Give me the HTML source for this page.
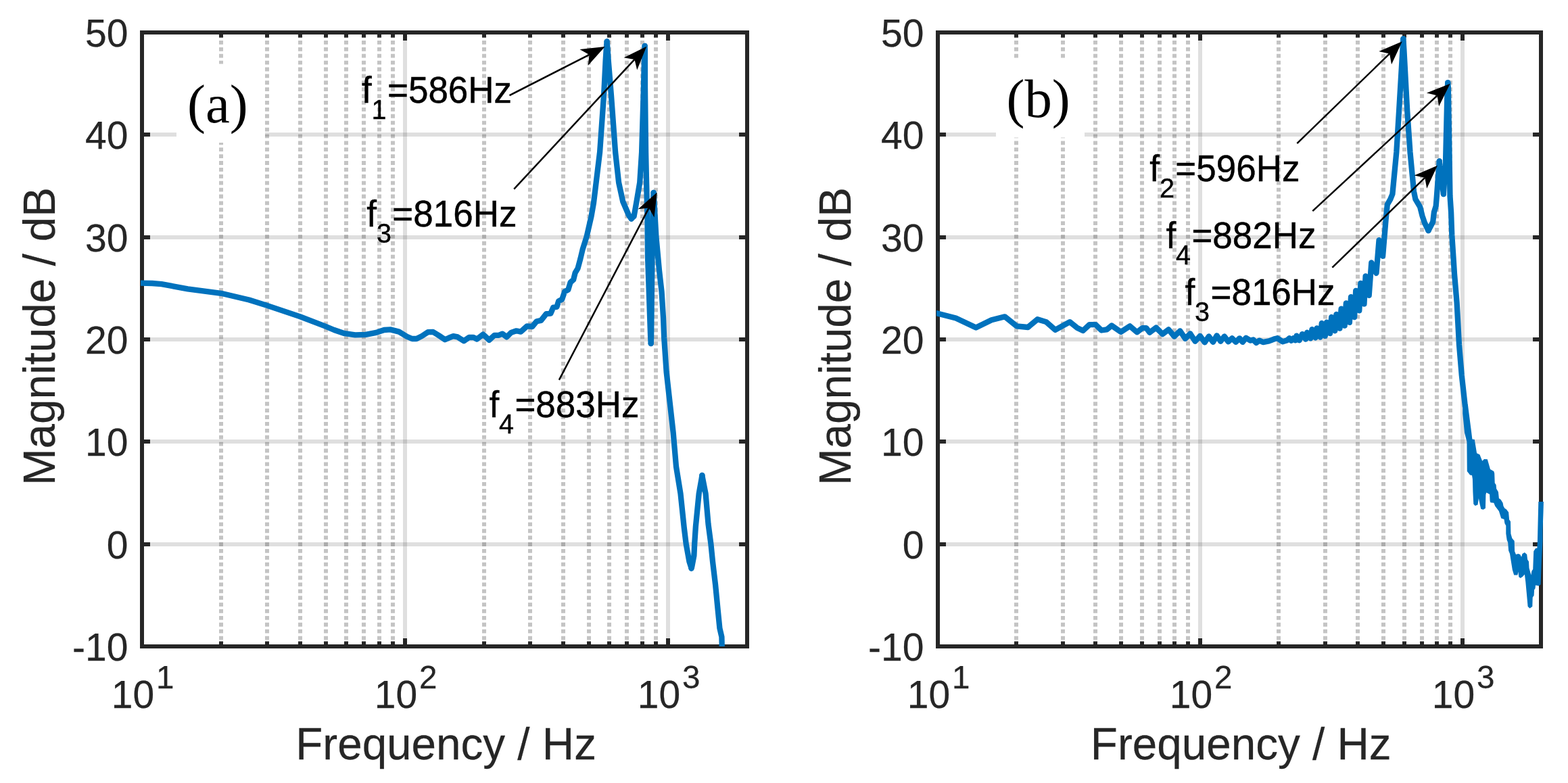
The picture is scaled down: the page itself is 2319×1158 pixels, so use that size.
<!DOCTYPE html>
<html lang="en"><head><meta charset="utf-8"><title>Magnitude / dB vs Frequency / Hz</title>
<style>
html,body{margin:0;padding:0;background:#fff}
body{width:2319px;height:1158px;overflow:hidden}
svg{display:block}
text{font-family:"Liberation Sans",Arial,Helvetica,sans-serif;fill:#262626;stroke:#262626;stroke-width:.25px}
.tk{font-size:57px}.tks{font-size:47.5px}.lb{font-size:65.6px}
.an{font-size:53px;fill:#000;stroke:#000;stroke-width:.45px}.ans{font-size:39.6px;fill:#000;stroke:#000;stroke-width:.4px}
.pl{font-family:"Liberation Serif","Times New Roman",serif;font-size:80.8px;fill:#000;stroke:none}
.gM{stroke:#262626;stroke-opacity:.15;stroke-width:6}
.gm{stroke:#262626;stroke-opacity:.27;stroke-width:6;stroke-dasharray:5.8 4.095}
.cv{fill:none;stroke:#0072bd;stroke-width:8.3;stroke-linejoin:round;stroke-linecap:butt}
</style></head><body>
<svg width="2319" height="1158" viewBox="0 0 2319 1158">
<rect width="2319" height="1158" fill="#fff"/>
<g><line x1="210" y1="199" x2="1105" y2="199" class="gM"/><line x1="210" y1="351" x2="1105" y2="351" class="gM"/><line x1="210" y1="502" x2="1105" y2="502" class="gM"/><line x1="210" y1="653" x2="1105" y2="653" class="gM"/><line x1="210" y1="805" x2="1105" y2="805" class="gM"/><line x1="599" y1="48" x2="599" y2="956" class="gM"/><line x1="988" y1="48" x2="988" y2="956" class="gM"/><line x1="327" y1="50.1" x2="327" y2="956" class="gm"/><line x1="395" y1="50.1" x2="395" y2="956" class="gm"/><line x1="444" y1="50.1" x2="444" y2="956" class="gm"/><line x1="482" y1="50.1" x2="482" y2="956" class="gm"/><line x1="512" y1="50.1" x2="512" y2="956" class="gm"/><line x1="538" y1="50.1" x2="538" y2="956" class="gm"/><line x1="561" y1="50.1" x2="561" y2="956" class="gm"/><line x1="581" y1="50.1" x2="581" y2="956" class="gm"/><line x1="716" y1="50.1" x2="716" y2="956" class="gm"/><line x1="784" y1="50.1" x2="784" y2="956" class="gm"/><line x1="833" y1="50.1" x2="833" y2="956" class="gm"/><line x1="871" y1="50.1" x2="871" y2="956" class="gm"/><line x1="901" y1="50.1" x2="901" y2="956" class="gm"/><line x1="927" y1="50.1" x2="927" y2="956" class="gm"/><line x1="950" y1="50.1" x2="950" y2="956" class="gm"/><line x1="970" y1="50.1" x2="970" y2="956" class="gm"/></g>
<rect x="261" y="94.5" width="131" height="116.5" fill="#fff"/>
<path d="M599 48v12 M599 956v-12 M988 48v12 M988 956v-12 M327 48v7.5 M327 956v-7.5 M395 48v7.5 M395 956v-7.5 M444 48v7.5 M444 956v-7.5 M482 48v7.5 M482 956v-7.5 M512 48v7.5 M512 956v-7.5 M538 48v7.5 M538 956v-7.5 M561 48v7.5 M561 956v-7.5 M581 48v7.5 M581 956v-7.5 M716 48v7.5 M716 956v-7.5 M784 48v7.5 M784 956v-7.5 M833 48v7.5 M833 956v-7.5 M871 48v7.5 M871 956v-7.5 M901 48v7.5 M901 956v-7.5 M927 48v7.5 M927 956v-7.5 M950 48v7.5 M950 956v-7.5 M970 48v7.5 M970 956v-7.5 M210 199h12 M1105 199h-12 M210 351h12 M1105 351h-12 M210 502h12 M1105 502h-12 M210 653h12 M1105 653h-12 M210 805h12 M1105 805h-12" stroke="#262626" stroke-width="6" fill="none"/>
<rect x="210" y="48" width="895" height="908" fill="none" stroke="#262626" stroke-width="6"/>
<text class="tk" text-anchor="end" x="189.5" y="69.1">50</text>
<text class="tk" text-anchor="end" x="189.5" y="220.1">40</text>
<text class="tk" text-anchor="end" x="189.5" y="372.1">30</text>
<text class="tk" text-anchor="end" x="189.5" y="523.1">20</text>
<text class="tk" text-anchor="end" x="189.5" y="674.1">10</text>
<text class="tk" text-anchor="end" x="189.5" y="826.1">0</text>
<text class="tk" text-anchor="end" x="189.5" y="977.1">-10</text>
<text class="tk" x="164.7" y="1046.5">10<tspan class="tks" x="231" y="1018">1</tspan></text>
<text class="tk" x="553.7" y="1046.5">10<tspan class="tks" x="620" y="1018">2</tspan></text>
<text class="tk" x="942.7" y="1046.5">10<tspan class="tks" x="1009" y="1018">3</tspan></text>
<clipPath id="cl"><rect x="208" y="45" width="901" height="911"/></clipPath>
<polyline class="cv" clip-path="url(#cl)" points="204,418.6 225,419 238.9,420.2 277.7,427.3 327,433.8 368.4,443.5 394.3,451.6 443.5,468.1 481,482.5 494.2,488 509.8,493.2 525.3,495.4 540.9,494.9 556.4,491.9 568.1,488 577.2,487.4 590.1,490.6 601.8,497.7 609.5,501 616,501 623.8,497.1 632.8,491.2 640.6,491 648.4,495.8 658.1,502.3 663.9,499.7 670.4,497.1 676.9,498.4 686,504.2 693.7,499 700.2,498.8 705.4,501.6 714.5,494.5 723.5,502.9 731.3,495.8 737.8,495.8 743,493.6 749.4,498.4 755.9,491.9 763.7,489.3 770.2,490.6 779.4,482.3 787.2,483 793.7,475.2 800.2,473.9 807.9,464.2 814.4,463.5 818.3,454.5 823.5,453.8 826.1,445.4 831.2,442.8 835.1,431.2 840.3,428.6 843.6,417.6 848.1,413.7 850.7,403.3 854.6,396.8 858.4,382.6 861.6,369.1 867.6,350.1 874.5,320 878,300 887.1,225 893.1,140 895.6,90 897,68 897.6,61.5 898.2,68 899.8,90 903.9,140 910.1,225 915.1,270 921.2,298 929.8,318 933.7,323.5 937.6,320 942,295 946.2,270 949.1,225 951.9,130 953.2,75 953.6,68 953.9,75 954,130 955.1,225 956.1,270 957.4,320 958,380 962.2,500 962.7,508 963.1,500 964.5,380 965.7,330 966.2,292 966.6,285 967.1,292 970.4,350 975,400 978.6,431.8 981,470 982.2,500 985.6,550 991.2,600 995.7,640 1000,690 1006.5,730.1 1011.7,780 1014.7,804.5 1019.4,830.4 1021.8,838 1022.5,840.5 1023.3,838 1026.4,821.8 1027.2,804.5 1028.9,778.6 1033.7,730 1037.6,708 1038.4,703 1039.3,708 1043.6,730 1047.5,775 1051.4,804.5 1054,830.4 1058.1,865 1061.8,903.2 1064.4,929.1 1067.4,942 1067.9,962"/>
<circle cx="897.6" cy="61.5" r="4.2" fill="#0072bd"/>
<circle cx="953.6" cy="68" r="4.2" fill="#0072bd"/>
<circle cx="962.7" cy="508" r="4.2" fill="#0072bd"/>
<circle cx="966.6" cy="285" r="4.2" fill="#0072bd"/>
<circle cx="1022.5" cy="840.5" r="4.2" fill="#0072bd"/>
<circle cx="1038.4" cy="703" r="4.2" fill="#0072bd"/>
<circle cx="933.7" cy="323.5" r="4.2" fill="#0072bd"/>
<text class="pl" x="277" y="180.5">(a)</text>
<text class="an" transform="translate(535 151.7) scale(1 1.035)"><tspan x="0" y="0">f</tspan><tspan class="ans" x="14.6" y="23.5">1</tspan><tspan x="38" y="0">=586Hz</tspan></text>
<text class="an" transform="translate(542.3 334.7) scale(1 1.035)"><tspan x="0" y="0">f</tspan><tspan class="ans" x="14.6" y="23.5">3</tspan><tspan x="38" y="0">=816Hz</tspan></text>
<text class="an" transform="translate(723.4 616.9) scale(1 1.035)"><tspan x="0" y="0">f</tspan><tspan class="ans" x="14.6" y="23.5">4</tspan><tspan x="38" y="0">=883Hz</tspan></text>
<line x1="753.5" y1="141.1" x2="871.6" y2="80.9" stroke="#000" stroke-width="2.5"/>
<polygon points="894.7,69 869.6,96.9 871.6,80.9 857.4,73" fill="#000"/>
<line x1="760.2" y1="279.6" x2="938.5" y2="87.9" stroke="#000" stroke-width="2.5"/>
<polygon points="956.2,68.8 942.2,103.6 938.5,87.9 922.6,85.3" fill="#000"/>
<line x1="826.9" y1="561.9" x2="959.7" y2="307.4" stroke="#000" stroke-width="2.5"/>
<polygon points="971.8,284.4 967.5,321.6 959.7,307.4 943.7,309.2" fill="#000"/>
<text class="lb" text-anchor="middle" transform="translate(659.6 1122.8) scale(1 1.03)">Frequency / Hz</text>
<text class="lb" text-anchor="middle" transform="translate(80.8 497.5) rotate(-90) scale(1 1.03)">Magnitude / dB</text>
<g><line x1="1387" y1="199" x2="2279" y2="199" class="gM"/><line x1="1387" y1="351" x2="2279" y2="351" class="gM"/><line x1="1387" y1="502" x2="2279" y2="502" class="gM"/><line x1="1387" y1="653" x2="2279" y2="653" class="gM"/><line x1="1387" y1="805" x2="2279" y2="805" class="gM"/><line x1="1775" y1="48" x2="1775" y2="956" class="gM"/><line x1="2163" y1="48" x2="2163" y2="956" class="gM"/><line x1="1503" y1="50.1" x2="1503" y2="956" class="gm"/><line x1="1572" y1="50.1" x2="1572" y2="956" class="gm"/><line x1="1620" y1="50.1" x2="1620" y2="956" class="gm"/><line x1="1658" y1="50.1" x2="1658" y2="956" class="gm"/><line x1="1689" y1="50.1" x2="1689" y2="956" class="gm"/><line x1="1715" y1="50.1" x2="1715" y2="956" class="gm"/><line x1="1737" y1="50.1" x2="1737" y2="956" class="gm"/><line x1="1757" y1="50.1" x2="1757" y2="956" class="gm"/><line x1="1891" y1="50.1" x2="1891" y2="956" class="gm"/><line x1="1960" y1="50.1" x2="1960" y2="956" class="gm"/><line x1="2008" y1="50.1" x2="2008" y2="956" class="gm"/><line x1="2046" y1="50.1" x2="2046" y2="956" class="gm"/><line x1="2077" y1="50.1" x2="2077" y2="956" class="gm"/><line x1="2103" y1="50.1" x2="2103" y2="956" class="gm"/><line x1="2125" y1="50.1" x2="2125" y2="956" class="gm"/><line x1="2145" y1="50.1" x2="2145" y2="956" class="gm"/></g>
<rect x="1473" y="86" width="131" height="117.5" fill="#fff"/>
<path d="M1775 48v12 M1775 956v-12 M2163 48v12 M2163 956v-12 M1503 48v7.5 M1503 956v-7.5 M1572 48v7.5 M1572 956v-7.5 M1620 48v7.5 M1620 956v-7.5 M1658 48v7.5 M1658 956v-7.5 M1689 48v7.5 M1689 956v-7.5 M1715 48v7.5 M1715 956v-7.5 M1737 48v7.5 M1737 956v-7.5 M1757 48v7.5 M1757 956v-7.5 M1891 48v7.5 M1891 956v-7.5 M1960 48v7.5 M1960 956v-7.5 M2008 48v7.5 M2008 956v-7.5 M2046 48v7.5 M2046 956v-7.5 M2077 48v7.5 M2077 956v-7.5 M2103 48v7.5 M2103 956v-7.5 M2125 48v7.5 M2125 956v-7.5 M2145 48v7.5 M2145 956v-7.5 M1387 199h12 M2279 199h-12 M1387 351h12 M2279 351h-12 M1387 502h12 M2279 502h-12 M1387 653h12 M2279 653h-12 M1387 805h12 M2279 805h-12" stroke="#262626" stroke-width="6" fill="none"/>
<rect x="1387" y="48" width="892" height="908" fill="none" stroke="#262626" stroke-width="6"/>
<text class="tk" text-anchor="end" x="1366.5" y="69.1">50</text>
<text class="tk" text-anchor="end" x="1366.5" y="220.1">40</text>
<text class="tk" text-anchor="end" x="1366.5" y="372.1">30</text>
<text class="tk" text-anchor="end" x="1366.5" y="523.1">20</text>
<text class="tk" text-anchor="end" x="1366.5" y="674.1">10</text>
<text class="tk" text-anchor="end" x="1366.5" y="826.1">0</text>
<text class="tk" text-anchor="end" x="1366.5" y="977.1">-10</text>
<text class="tk" x="1341.7" y="1046.5">10<tspan class="tks" x="1408" y="1018">1</tspan></text>
<text class="tk" x="1729.7" y="1046.5">10<tspan class="tks" x="1796" y="1018">2</tspan></text>
<text class="tk" x="2117.7" y="1046.5">10<tspan class="tks" x="2184" y="1018">3</tspan></text>
<clipPath id="cr"><rect x="1385" y="45" width="898" height="911"/></clipPath>
<polyline class="cv" clip-path="url(#cr)" points="1380,462.2 1387.3,463.8 1413.7,470.5 1443.4,484.5 1466.4,473.3 1486.1,468.3 1503.5,482.3 1520.3,484 1534.4,472.2 1547.3,476.1 1560.7,487.9 1582.1,476.1 1593.3,485.1 1601.7,489 1611.3,480.1 1620.2,480.1 1629,488.5 1636.8,487.4 1644.1,481.5 1657.6,490.9 1671.1,482.3 1681.7,491.3 1689.6,485.1 1695.2,485.1 1700.3,491.8 1709.8,484.5 1719.3,494.1 1728.3,487.4 1736.7,497.5 1745.2,489.4 1753,500.8 1760.3,493.5 1767.6,504.8 1774.9,496.9 1781.7,506.4 1787.8,497.5 1794,505.9 1799.6,496.3 1805.2,504.8 1810.8,497.5 1816.5,505.3 1822.1,500.3 1827.7,505.9 1833.3,500.3 1837.8,505.9 1842.8,499.7 1849,503.6 1853.5,502.5 1858,507 1862.5,503.6 1867.9,506.1 1876.8,504.4 1884,501.6 1889.2,500.2 1897,505.3 1903,503.6 1907,500.2 1909.6,503.8 1913.6,499.8 1916,503.4 1917.6,496.6 1921.7,503.3 1926,494.1 1931.1,501.6 1933.2,491.7 1938.3,500.4 1940.4,487.2 1945.5,499.5 1947.6,485.4 1952.7,498.6 1954.8,478 1959.9,496.8 1962,476.6 1967.1,493.2 1969.2,468.9 1974.3,489.3 1976.4,464.8 1981.5,485.7 1983.6,456.7 1988.7,481.7 1990.8,448.4 1995.9,476.9 1998,439.2 2003.1,469.1 2005.2,429.8 2010.3,459.3 2012.4,418.8 2017.5,449.5 2019.6,408.3 2024.7,436.9 2028.3,388.3 2035.5,404 2039.5,355.2 2045.1,378.8 2049.6,324.9 2051.8,302.5 2056.3,294.6 2059.4,287 2065.3,225.1 2069,165 2074.5,72 2075.4,57.5 2076.3,72 2081.3,165 2085.5,225.1 2091,283 2093.4,294.6 2100.1,305.8 2103.5,319.3 2106.9,329.4 2112.5,341 2119.2,328.3 2120.9,313.7 2123.7,304.7 2124.8,291.2 2128.2,245 2128.7,238.5 2129.3,245 2134.9,287 2138,240 2140.6,130 2141.3,122.3 2141.9,130 2144.5,290 2146.1,313.7 2147.3,347.4 2149.5,381 2151,405 2154.6,447.5 2158,510 2161.8,555.1 2167,602"/>
<circle cx="2075.4" cy="57.5" r="4.2" fill="#0072bd"/>
<circle cx="2128.7" cy="238.5" r="4.2" fill="#0072bd"/>
<circle cx="2141.3" cy="122.3" r="4.2" fill="#0072bd"/>
<circle cx="2112.5" cy="341" r="4.2" fill="#0072bd"/>
<circle cx="2134.9" cy="287" r="4.2" fill="#0072bd"/>
<polygon fill="#0072bd" points="2163.2,598 2163.2,611.4 2166,639.9 2169.4,653.2 2169.8,696.9 2174.1,702.6 2177,702.9 2177.9,708.6 2178.4,727.6 2179.3,745.6 2181.7,748 2185.5,746.6 2186.9,737.1 2188.4,744.7 2190.3,752.7 2193.6,753.7 2196.9,751.8 2197.4,731.4 2198.3,728.5 2203.1,730.9 2203.6,740.9 2204.5,743.2 2209.3,743.7 2211.2,748.5 2216.9,756.1 2220.2,766.5 2224.5,767.9 2225.4,774.1 2227.3,777.4 2227.3,789.3 2228.7,798.8 2230.2,802.6 2231.1,814.3 2233,819 2236.8,842.8 2239.2,850.4 2244.4,850.4 2245.4,845.6 2246.3,853.2 2248.7,855.1 2252,852.7 2254.9,849.4 2256.3,860.8 2257.7,876 2259.6,896.9 2262.5,899.8 2266.3,896.9 2266.7,883.6 2268.6,880.8 2269.1,872.2 2270.5,870.3 2271,865.6 2275.8,866.5 2278.6,864.6 2280,828.5 2281.5,800 2281.5,785 2282.5,757 2282.9,742 2275.3,742 2273.9,800 2273.4,810.5 2271,810.9 2268.2,815.2 2267.2,841.8 2265.3,844.7 2264.4,850.4 2261.5,839.9 2261,830.4 2259.1,827.6 2258.2,820 2254.9,817.1 2251.5,819 2250.1,823.8 2248.2,820 2245.4,819 2242,820 2240.1,815.2 2239.7,800 2236.3,796 2234.4,789.3 2234,771.3 2232.1,768.4 2231.1,757.5 2227.8,753.2 2225.4,751.8 2223.5,748.5 2222.6,743.7 2219.7,739 2216.9,737.1 2215.9,727.6 2213.1,722.8 2212.6,717.1 2210.7,714.3 2210.2,700 2209.3,696.9 2204,694.1 2199.8,679.3 2195,678.9 2192.2,681.7 2188.4,672.2 2184.1,670.3 2180.8,649.9 2177.4,649.4 2176,638 2170.8,598"/>
<text class="pl" x="1488.5" y="172.5">(b)</text>
<text class="an" transform="translate(1700.3 267.8) scale(1 1.035)"><tspan x="0" y="0">f</tspan><tspan class="ans" x="14.6" y="23.5">2</tspan><tspan x="38" y="0">=596Hz</tspan></text>
<text class="an" transform="translate(1724.4 366.7) scale(1 1.035)"><tspan x="0" y="0">f</tspan><tspan class="ans" x="14.6" y="23.5">4</tspan><tspan x="38" y="0">=882Hz</tspan></text>
<text class="an" transform="translate(1752.5 450.5) scale(1 1.035)"><tspan x="0" y="0">f</tspan><tspan class="ans" x="14.6" y="23.5">3</tspan><tspan x="38" y="0">=816Hz</tspan></text>
<line x1="1918.3" y1="212.1" x2="2055.1" y2="79.4" stroke="#000" stroke-width="2.5"/>
<polygon points="2073.8,61.3 2058,95.3 2055.1,79.4 2039.3,76.1" fill="#000"/>
<line x1="1941.3" y1="312.2" x2="2125.6" y2="141.3" stroke="#000" stroke-width="2.5"/>
<polygon points="2144.7,123.7 2128.1,157.3 2125.6,141.3 2109.9,137.6" fill="#000"/>
<line x1="1970.4" y1="395.7" x2="2107.3" y2="262.8" stroke="#000" stroke-width="2.5"/>
<polygon points="2126,244.7 2110.2,278.7 2107.3,262.8 2091.5,259.5" fill="#000"/>
<text class="lb" text-anchor="middle" transform="translate(1835.2 1122.8) scale(1 1.03)">Frequency / Hz</text>
<text class="lb" text-anchor="middle" transform="translate(1257.8 497.5) rotate(-90) scale(1 1.03)">Magnitude / dB</text>
</svg></body></html>
